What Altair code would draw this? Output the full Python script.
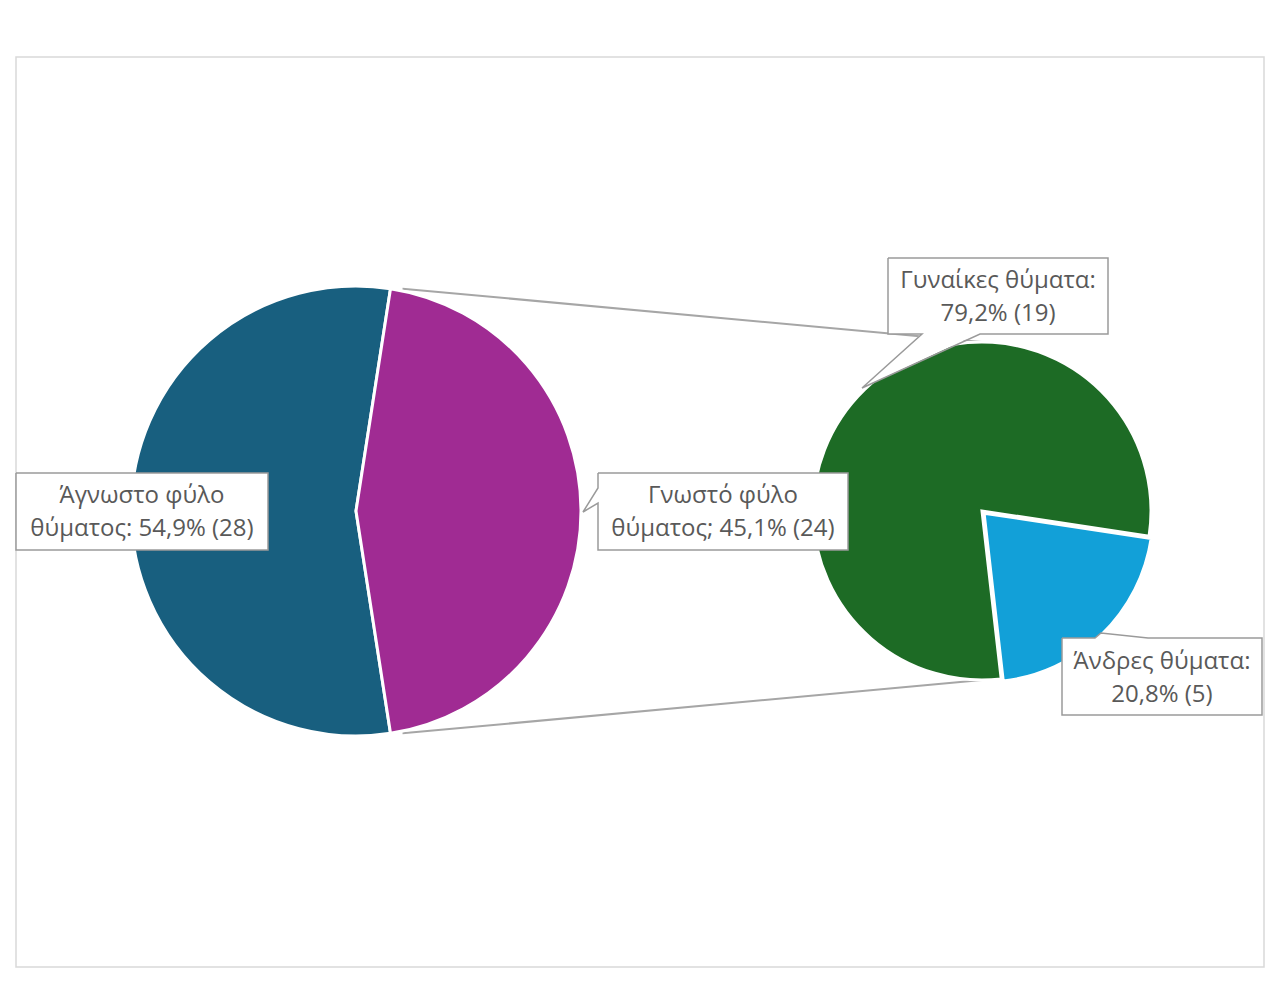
import math

import altair as alt
import pandas as pd

# ---- data -------------------------------------------------------------
main_parts = ["Άγνωστο φύλο θύματος", "Γνωστό φύλο θύματος"]
main_prefix = ["Άγνωστο φύλο\nθύματος:", "Γνωστό φύλο\nθύματος;"]
main_pct = [54.9, 45.1]
main_count = [28, 24]

sub_parts = ["Γυναίκες θύματα", "Άνδρες θύματα"]
sub_prefix = ["Γυναίκες θύματα:\n", "Άνδρες θύματα:\n"]
sub_pct = [79.2, 20.8]
sub_count = [19, 5]

colors = ["#185F7F", "#A02B93", "#1D6B25", "#12A0D8"]

# ---- layout -----------------------------------------------------------
W, H = 1288, 997
LCX, LCY, LR = 356, 511, 225      # main pie
RCX, RCY, RR = 982, 511, 169      # breakdown pie
SUB_START_DEG = 98.6              # where the men slice begins
EXPLODE = 3                       # men slice pulled out a little
GREY_TEXT = "#595959"
GREY_LINE = "#A6A6A6"
BOX_LINE = "#9A9A9A"
FONT = "Open Sans"
FONT_SIZE = 24
LINE_H = 33


def label_text(prefix, pct, count):
    num = f"{pct:.1f}".replace(".", ",") + f"% ({count})"
    sep = "" if prefix.endswith("\n") else " "
    return prefix + sep + num


main_df = pd.DataFrame({
    "part": main_parts,
    "pct": main_pct,
    "count": main_count,
    "ord": [1, 0],  # the split-out slice is drawn first, on the right
})
sub_df = pd.DataFrame({
    "part": sub_parts,
    "pct": sub_pct,
    "count": sub_count,
    "ord": [1, 0],
})

# angles of the split-out slice (known sex), centred on the right side
known_share = main_pct[1] / 100.0
main_start = math.pi / 2 - known_share * math.pi
main_end = main_start + known_share * 2 * math.pi
sub_start = math.radians(SUB_START_DEG)
men_mid = sub_start + (sub_pct[1] / 100.0) * math.pi

color_scale = alt.Scale(domain=main_parts + sub_parts, range=colors)
xs = alt.Scale(domain=[0, W], range=[0, W], nice=False, zero=False)
ys = alt.Scale(domain=[0, H], range=[0, H], nice=False, zero=False)
one_row = pd.DataFrame({"a": [0]})


def pie(df, cx, cy, r, start, visible=None):
    enc = dict(
        theta=alt.Theta("pct:Q", stack=True,
                        scale=alt.Scale(range=[start, start + 2 * math.pi])),
        color=alt.Color("part:N", scale=color_scale, legend=None),
        order=alt.Order("ord:Q"),
        x=alt.value(cx),
        y=alt.value(cy),
    )
    if visible is not None:
        enc["opacity"] = alt.condition(alt.datum.part == visible,
                                       alt.value(1), alt.value(0))
    return alt.Chart(df).mark_arc(radius=r, stroke="white",
                                  strokeWidth=3).encode(**enc)


# ---- frame ------------------------------------------------------------
frame = alt.Chart(one_row).mark_rect(
    fill="white", stroke="#D9D9D9", strokeWidth=1.5
).encode(x=alt.value(16), x2=alt.value(1264), y=alt.value(57), y2=alt.value(967))

# ---- connector lines between the two pies -----------------------------
def on_circle(cx, cy, r, a):
    return cx + r * math.sin(a), cy - r * math.cos(a)


p_top = on_circle(LCX, LCY, LR, main_start)
p_bot = on_circle(LCX, LCY, LR, main_end)
conn_rows = [
    {"seg": "top", "i": 0, "x": p_top[0] + 12, "y": p_top[1]},
    {"seg": "top", "i": 1, "x": RCX, "y": RCY - RR},
    {"seg": "bot", "i": 0, "x": p_bot[0] + 12, "y": p_bot[1]},
    {"seg": "bot", "i": 1, "x": RCX, "y": RCY + RR},
]
connectors = alt.Chart(pd.DataFrame(conn_rows)).mark_line(
    color=GREY_LINE, strokeWidth=2
).encode(
    x=alt.X("x:Q", scale=xs, axis=None),
    y=alt.Y("y:Q", scale=ys, axis=None),
    detail="seg:N",
    order="i:Q",
)

# ---- pies -------------------------------------------------------------
left_pie = pie(main_df, LCX, LCY, LR, main_start)
right_green = pie(sub_df, RCX, RCY, RR, sub_start, visible=sub_parts[0])
right_blue = pie(
    sub_df,
    RCX + EXPLODE * math.sin(men_mid),
    RCY - EXPLODE * math.cos(men_mid),
    RR, sub_start, visible=sub_parts[1],
)

# ---- callout boxes ----------------------------------------------------
boxes = [
    dict(text=label_text(main_prefix[0], main_pct[0], main_count[0]),
         box=(16, 473, 268, 550), side=None, tx=142, ty=512),
    dict(text=label_text(main_prefix[1], main_pct[1], main_count[1]),
         box=(598, 473, 848, 550), side="left", base=(488, 503),
         tip=(583, 512), tx=723, ty=512),
    dict(text=label_text(sub_prefix[0], sub_pct[0], sub_count[0]),
         box=(888, 258, 1108, 334), side="bottom", base=(922, 980),
         tip=(862, 388), tx=998, ty=297),
    dict(text=label_text(sub_prefix[1], sub_pct[1], sub_count[1]),
         box=(1062, 638, 1262, 715), side="top", base=(1095, 1148),
         tip=(1101, 633), tx=1162, ty=678),
]

box_layers, outline_rows, hfill_rows, vfill_rows, text_rows = [], [], [], [], []
for k, b in enumerate(boxes):
    x0, y0, x1, y1 = b["box"]
    box_layers.append(
        alt.Chart(one_row).mark_rect(fill="white", strokeWidth=0).encode(
            x=alt.value(x0), x2=alt.value(x1), y=alt.value(y0), y2=alt.value(y1)
        )
    )
    # first text line sits half a line above the block centre
    text_rows.append({"k": k, "x": b["tx"], "y": b["ty"] - LINE_H / 2,
                      "t": b["text"]})
    side = b["side"]
    if side is None:
        pts = [(x0, y0), (x1, y0), (x1, y1), (x0, y1), (x0, y0)]
    elif side == "left":
        a, c = b["base"]
        tx, ty = b["tip"]
        pts = [(x0, y0), (x1, y0), (x1, y1), (x0, y1), (x0, c),
               (tx, ty), (x0, a), (x0, y0)]
        vfill_rows += [{"k": k, "x": tx, "y": ty, "y2": ty},
                       {"k": k, "x": x0 + 1, "y": a, "y2": c}]
    elif side == "bottom":
        a, c = b["base"]
        tx, ty = b["tip"]
        pts = [(x0, y0), (x1, y0), (x1, y1), (c, y1), (tx, ty),
               (a, y1), (x0, y1), (x0, y0)]
        hfill_rows += [{"k": k, "y": y1 - 1, "x": a, "x2": c},
                       {"k": k, "y": ty, "x": tx, "x2": tx}]
    else:  # top
        a, c = b["base"]
        tx, ty = b["tip"]
        pts = [(x0, y0), (a, y0), (tx, ty), (c, y0), (x1, y0),
               (x1, y1), (x0, y1), (x0, y0)]
        hfill_rows += [{"k": k, "y": ty, "x": tx, "x2": tx},
                       {"k": k, "y": y0 + 1, "x": a, "x2": c}]
    for i, (px, py) in enumerate(pts):
        outline_rows.append({"k": k, "i": i, "x": px, "y": py})

ptr_h = alt.Chart(pd.DataFrame(hfill_rows)).mark_area(
    color="white", opacity=1, orient="horizontal", interpolate="linear"
).encode(
    y=alt.Y("y:Q", scale=ys, axis=None),
    x=alt.X("x:Q", scale=xs, axis=None), x2="x2:Q",
    detail="k:N",
)
ptr_v = alt.Chart(pd.DataFrame(vfill_rows)).mark_area(
    color="white", opacity=1, orient="vertical", interpolate="linear"
).encode(
    x=alt.X("x:Q", scale=xs, axis=None),
    y=alt.Y("y:Q", scale=ys, axis=None), y2="y2:Q",
    detail="k:N",
)
box_outline = alt.Chart(pd.DataFrame(outline_rows)).mark_line(
    color=BOX_LINE, strokeWidth=1.5, strokeJoin="miter"
).encode(
    x=alt.X("x:Q", scale=xs, axis=None),
    y=alt.Y("y:Q", scale=ys, axis=None),
    detail="k:N",
    order="i:Q",
)
labels = alt.Chart(pd.DataFrame(text_rows)).mark_text(
    font=FONT, fontSize=FONT_SIZE, color=GREY_TEXT, lineHeight=LINE_H,
    align="center", baseline="middle", lineBreak="\n",
).encode(
    x=alt.X("x:Q", scale=xs, axis=None),
    y=alt.Y("y:Q", scale=ys, axis=None),
    text="t:N",
)

chart = alt.layer(
    frame, connectors, left_pie, right_green, right_blue,
    *box_layers, ptr_h, ptr_v, box_outline, labels,
).resolve_scale(
    theta="independent"
).properties(
    width=W, height=H, padding=0,
    autosize=alt.AutoSizeParams(type="none"),
    background="white",
).configure_view(stroke=None)

chart.save("out.html", embed_options={"renderer": "svg", "actions": False})
